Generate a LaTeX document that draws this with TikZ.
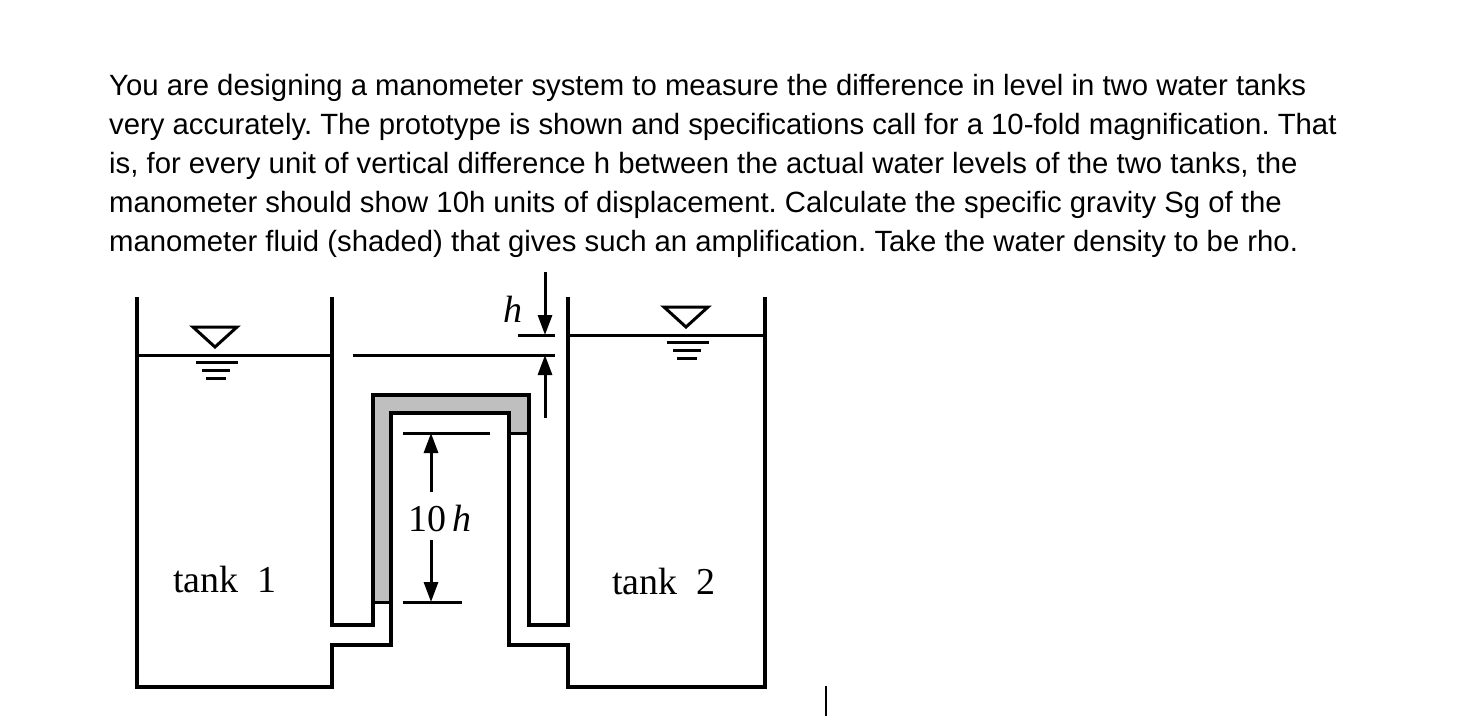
\documentclass[tikz,border=0pt]{standalone}
\usepackage{fontspec}
\setmainfont{Liberation Sans}
\newfontfamily\serifd{Liberation Serif}
\usetikzlibrary{arrows.meta}
\frenchspacing
\begin{document}
\begin{tikzpicture}[x=1pt,y=-1pt,
  wall/.style={line width=3.2pt},
  thin/.style={line width=3pt},
  para/.style={anchor=base west,inner sep=0pt,font=\fontsize{29.3}{34}\selectfont},
  lab/.style={inner sep=0pt,font=\serifd\fontsize{38}{42}\selectfont},
  dim/.style={line width=3pt,-{Triangle[length=20pt,width=14pt]}}]
\useasboundingbox (0,0) rectangle (1468,726);
\node[para] (t1) at (109,95) {You are designing a manometer system to measure the difference in level in two water tanks};
\node[para] (t2) at (109,134) {very accurately. The prototype is shown and specifications call for a 10-fold magnification. That};
\node[para] (t3) at (109,173) {is, for every unit of vertical difference h between the actual water levels of the two tanks, the};
\node[para] (t4) at (109,212) {manometer should show 10h units of displacement. Calculate the specific gravity Sg of the};
\node[para] (t5) at (109,251) {manometer fluid (shaded) that gives such an amplification. Take the water density to be rho.};
% shaded fluid
\fill[gray!50] (373,602) -- (373,395) -- (529,395) -- (529,433) -- (509,433) -- (509,413) -- (391,413) -- (391,602) -- cycle;
% tank walls
\draw[wall] (137,297) -- (137,687) -- (332,687) -- (332,645) -- (391,645) -- (391,413) -- (509,413) -- (509,645) -- (568,645) -- (568,687) -- (765,687) -- (765,297);
\draw[wall] (332,297) -- (332,625) -- (373,625) -- (373,395) -- (529,395) -- (529,625) -- (568,625) -- (568,297);
\draw[thin] (373,602) -- (391,602);
\draw[thin] (509,433) -- (529,433);
% levels
\draw[thin] (137,355) -- (332,355);
\draw[thin] (353,355) -- (555,355);
\draw[thin] (568,335) -- (765,335);
\draw[thin] (518,335) -- (555,335);
% free-surface symbols
\draw[thin] (193,327) -- (237,327) -- (215,347) -- cycle;
\draw[thin] (196,362) -- (238,362) (202,370) -- (230,370) (206,378) -- (226,378);
\draw[thin] (664,307) -- (708,307) -- (686,327) -- cycle;
\draw[thin] (667,342) -- (709,342) (673,350) -- (701,350) (677,358) -- (697,358);
% h dimension
\coordinate (ht) at (545,272);
\coordinate (hb) at (545,418);
\coordinate (hu) at (545,335);
\coordinate (hl) at (545,355);
\draw[dim] (ht) -- (hu);
\draw[dim] (hb) -- (hl);
\node[lab,font=\serifd\itshape\fontsize{38}{42}\selectfont] (hlab) at (513,309) {h};
% 10h dimension
\draw[thin] (403,433) -- (490,433);
\draw[thin] (403,602) -- (462,602);
\coordinate (a1) at (431,492);
\coordinate (a2) at (431,433);
\coordinate (a3) at (431,540);
\coordinate (a4) at (431,602);
\draw[dim] (a1) -- (a2);
\draw[dim] (a3) -- (a4);
\node[lab] (ten) at (440,518) {10\,\textit{h}};
\node[lab] (tk1) at (225,579) {tank\,\,\,1};
\node[lab] (tk2) at (664,581) {tank\,\,\,2};
\draw[line width=2.5pt] (826,686) -- (826,716);
\end{tikzpicture}
\end{document}
